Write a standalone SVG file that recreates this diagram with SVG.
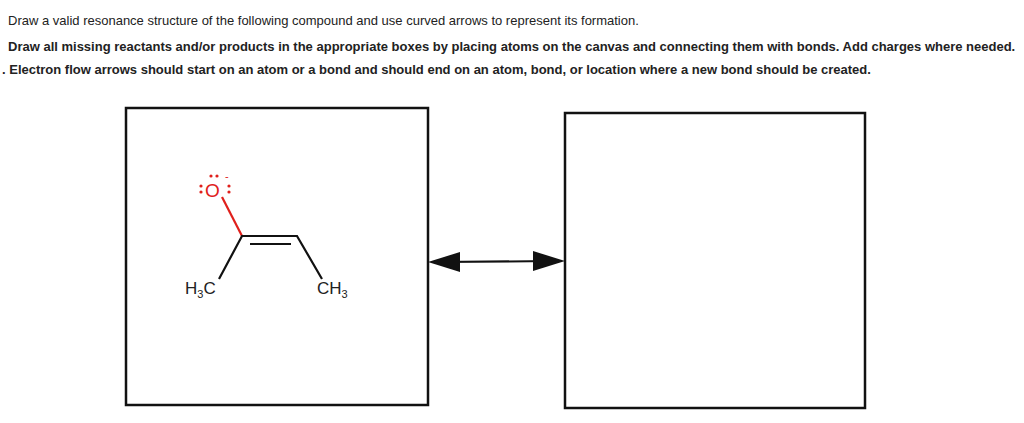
<svg xmlns="http://www.w3.org/2000/svg" width="1024" height="423" viewBox="0 0 1024 423">
<style>
text{font-family:"Liberation Sans",Arial,sans-serif;fill:#222}
.b{font-weight:bold}
.box{fill:none;stroke:#111;stroke-width:2.5}
.bond{stroke:#111;stroke-width:2.2;fill:none}
.red{fill:#e0201c}
</style>
<rect width="1024" height="423" fill="#fff"/>
<text x="8" y="25" font-size="13">Draw a valid resonance structure of the following compound and use curved arrows to represent its formation.</text>
<text x="8" y="51" font-size="13" class="b">Draw all missing reactants and/or products in the appropriate boxes by placing atoms on the canvas and connecting them with bonds. Add charges where needed.</text>
<text x="2" y="74" font-size="13" class="b">. Electron flow arrows should start on an atom or a bond and should end on an atom, bond, or location where a new bond should be created.</text>
<g id="box-left"><rect class="box" x="126" y="108" width="302" height="297"/></g>
<g id="box-right"><rect class="box" x="565" y="113" width="300" height="295"/></g>
<g id="molecule">
<line x1="222" y1="197" x2="242" y2="236" stroke="#e0201c" stroke-width="2.2"/>
<path class="bond" d="M219 279 L242 236 L297 236 L322 279"/>
<line class="bond" x1="250" y1="244" x2="291" y2="244"/>
<text x="205" y="197" font-size="19" class="red">O</text>
<text x="225" y="180" font-size="11" class="red">-</text>
<g class="red"><circle cx="211" cy="176" r="1.6"/><circle cx="217" cy="176" r="1.6"/>
<circle cx="201" cy="186" r="1.6"/><circle cx="201" cy="192" r="1.6"/>
<circle cx="229" cy="186" r="1.6"/><circle cx="229" cy="192" r="1.6"/></g>
<text x="185" y="294" font-size="17">H<tspan font-size="11" dy="4">3</tspan><tspan dy="-4">C</tspan></text>
<text x="317" y="294" font-size="17">CH<tspan font-size="11" dy="4">3</tspan></text>
</g>
<g id="connectors">
<line x1="440" y1="262" x2="552" y2="261" stroke="#111" stroke-width="2"/>
<polygon points="428,262 460,252 460,272" fill="#111"/>
<polygon points="565,261 533,251 533,271" fill="#111"/>
</g>
</svg>
